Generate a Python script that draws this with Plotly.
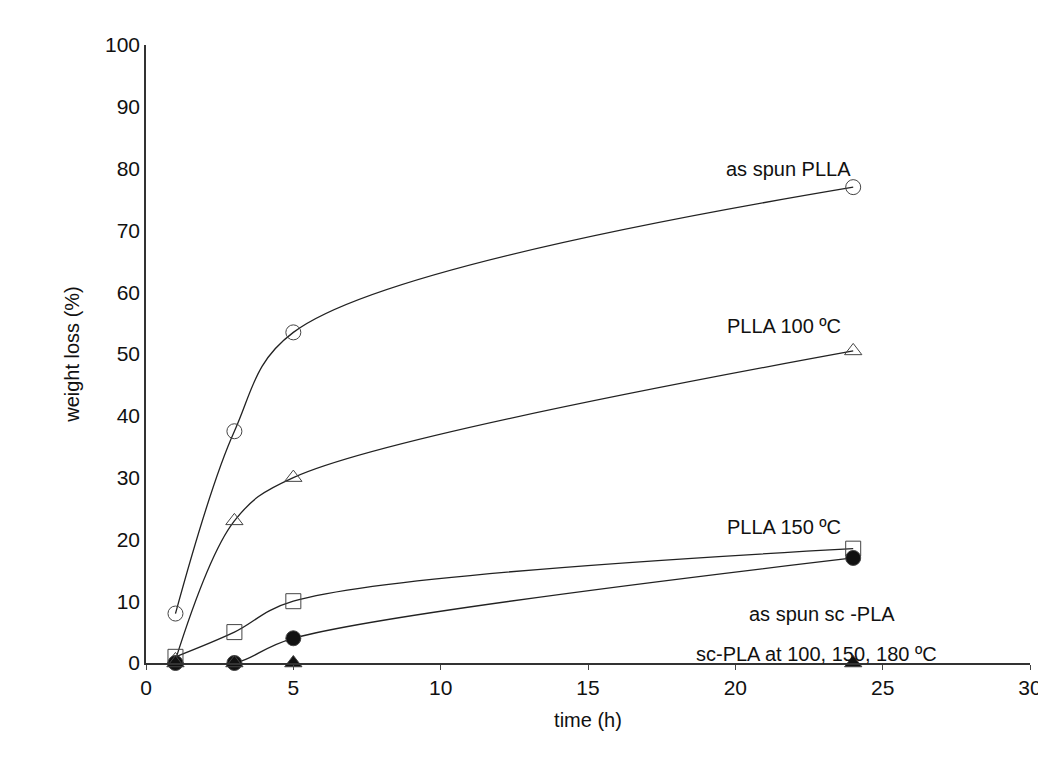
import plotly.graph_objects as go

time_h = [1, 3, 5, 24]
as_spun_plla = [8, 37.5, 53.5, 77]
plla_100 = [0.5, 23, 30, 50.5]
plla_150 = [1, 5, 10, 18.5]
as_spun_sc = [0, 0, 4, 17]
sc_heated = [0, 0, 0, 0]

fig = go.Figure()
series = [
    (as_spun_plla, "circle-open", True),
    (plla_100, "triangle-up-open", True),
    (plla_150, "square-open", True),
    (as_spun_sc, "circle", True),
    (sc_heated, "triangle-up", False),
]
for ys, sym, line in series:
    fig.add_trace(go.Scatter(
        x=time_h, y=ys, mode="lines+markers" if line else "markers",
        line=dict(shape="spline", color="#222", width=1.3),
        marker=dict(symbol=sym, size=15, color="#111" if "open" not in sym else "#444",
                    line=dict(width=1, color="#444")),
        showlegend=False, cliponaxis=False))

labels = [
    (24.0, 80, "as spun PLLA"), (23.65, 54.5, "PLLA 100 ºC"), (23.65, 22, "PLLA 150 ºC"),
    (25.5, 8, "as spun sc -PLA"), (26.9, 1.5, "sc-PLA at 100, 150, 180 ºC"),
]
for x, y, t in labels:
    fig.add_annotation(x=x, y=y, text=t, showarrow=False, xanchor="right",
                       font=dict(size=20, color="#111"))

fig.update_layout(
    width=1046, height=757, margin=dict(l=138, r=24, t=37, b=102),
    plot_bgcolor="white", paper_bgcolor="white",
    font=dict(family="Liberation Sans, Arial", size=21, color="#111"),
    xaxis=dict(range=[0, 30], dtick=5, showline=True, linecolor="#333", linewidth=1.5,
               ticks="outside", ticklen=5, showgrid=False, zeroline=False, automargin=False,
               title=dict(text="time (h)", font=dict(size=20), standoff=15)),
    yaxis=dict(range=[0, 100], dtick=10, showline=True, linecolor="#333", linewidth=1.5,
               ticks="", showgrid=False, zeroline=False, automargin=False,
               title=dict(text="weight loss (%)", font=dict(size=20), standoff=20)),
)
fig.write_html("out.html")
